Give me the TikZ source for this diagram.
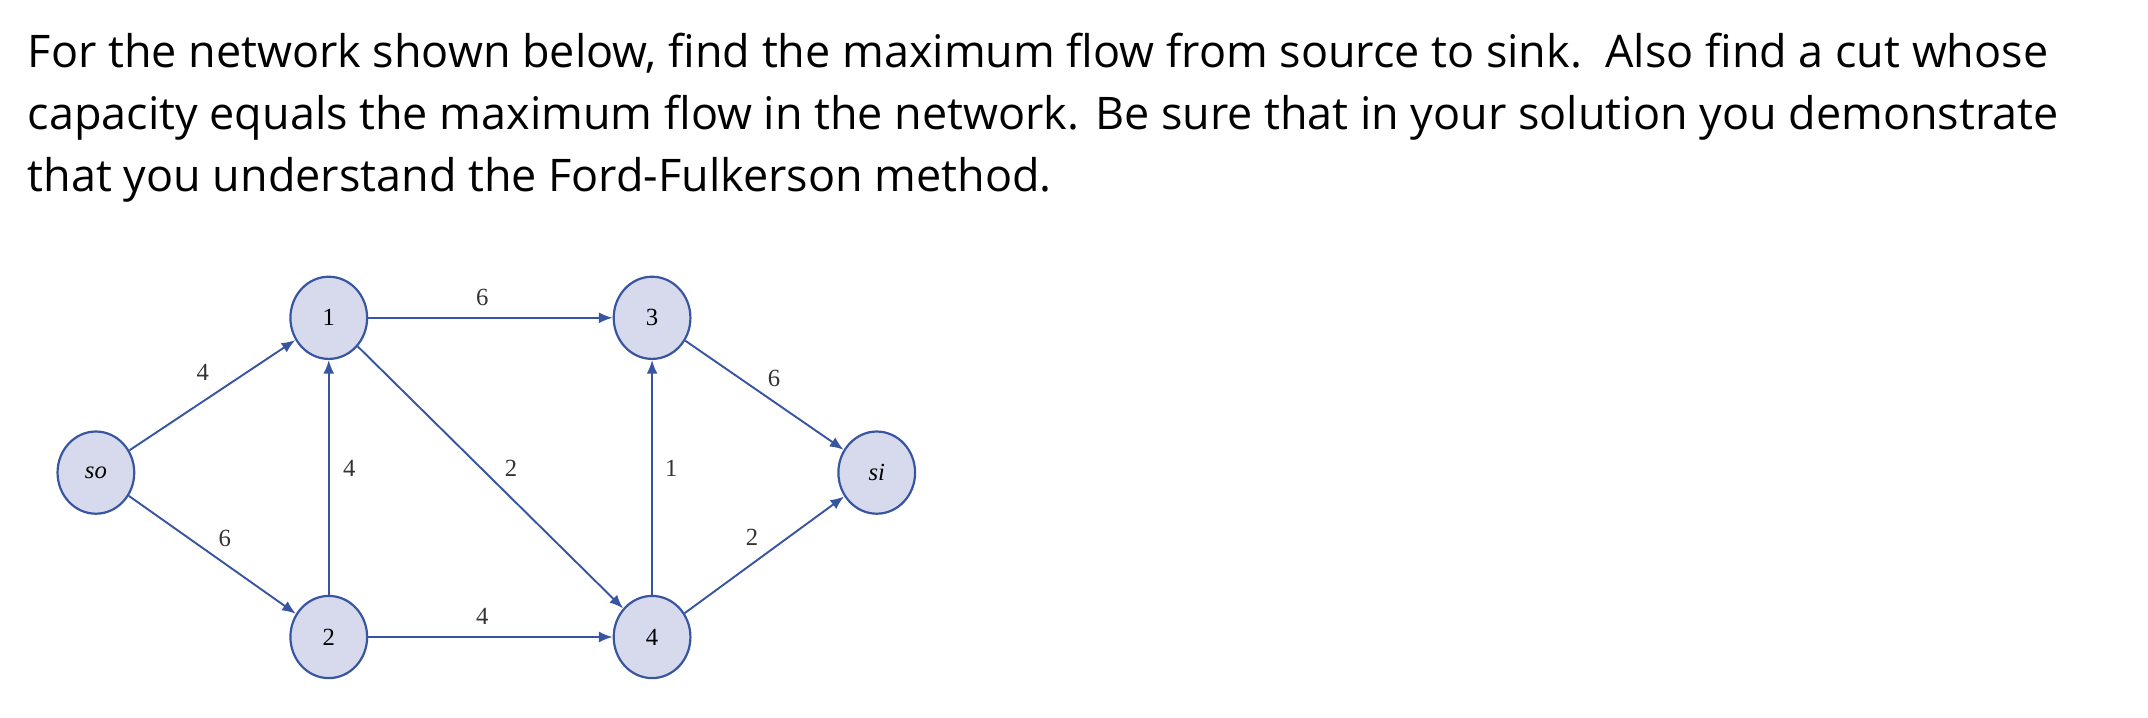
\documentclass[tikz,border=0pt]{standalone}
\usepackage{fontspec}
\setmainfont{Open Sans}
\newfontfamily\lblfont{Liberation Serif}
\usetikzlibrary{arrows.meta,shapes.geometric}
\definecolor{nodefill}{RGB}{214,218,236}
\definecolor{edgeblue}{RGB}{55,85,160}
\tikzset{
  vert/.style={ellipse,draw=edgeblue,fill=nodefill,line width=0.8pt,minimum width=28pt,minimum height=30pt,inner sep=0pt,font=\lblfont\fontsize{9}{10}\selectfont},
  arc/.style={draw=edgeblue,line width=0.7pt,-{Latex[length=5pt,width=4pt]}},
  wlabel/.style={font=\lblfont\fontsize{9}{10}\selectfont,text=black!80}
}
\begin{document}
\begin{tikzpicture}[x=0.5pt,y=-0.5pt]
\useasboundingbox (0,0) rectangle (1568,524);
\node[anchor=west,align=left,font=\fontsize{16.4}{22.5}\selectfont,inner sep=0pt] (q) at (20,86)
{For the network shown below, find the maximum flow from source to sink.\ \ Also find a cut whose\\
capacity equals the maximum flow in the network. Be sure that in your solution you demonstrate\\
that you understand the Ford-Fulkerson method.};
\node[vert] (so) at (70,345) {\itshape so};
\node[vert] (n1) at (240,232) {1};
\node[vert] (n3) at (476,232) {3};
\node[vert] (si) at (640,345) {\itshape si};
\node[vert] (n2) at (240,465) {2};
\node[vert] (n4) at (476,465) {4};
\draw[arc] (so) -- (n1);
\draw[arc] (so) -- (n2);
\draw[arc] (n1) -- (n3);
\draw[arc] (n2) -- (n1);
\draw[arc] (n1) -- (n4);
\draw[arc] (n2) -- (n4);
\draw[arc] (n4) -- (n3);
\draw[arc] (n3) -- (si);
\draw[arc] (n4) -- (si);
\node[wlabel] (c1) at (148,272) {4};
\node[wlabel] (c2) at (352,217) {6};
\node[wlabel] (c3) at (565,276) {6};
\node[wlabel] (c4) at (255,342) {4};
\node[wlabel] (c5) at (373,342) {2};
\node[wlabel] (c6) at (490,342) {1};
\node[wlabel] (c7) at (164,393) {6};
\node[wlabel] (c8) at (549,392) {2};
\node[wlabel] (c9) at (352,450) {4};
\end{tikzpicture}
\end{document}
